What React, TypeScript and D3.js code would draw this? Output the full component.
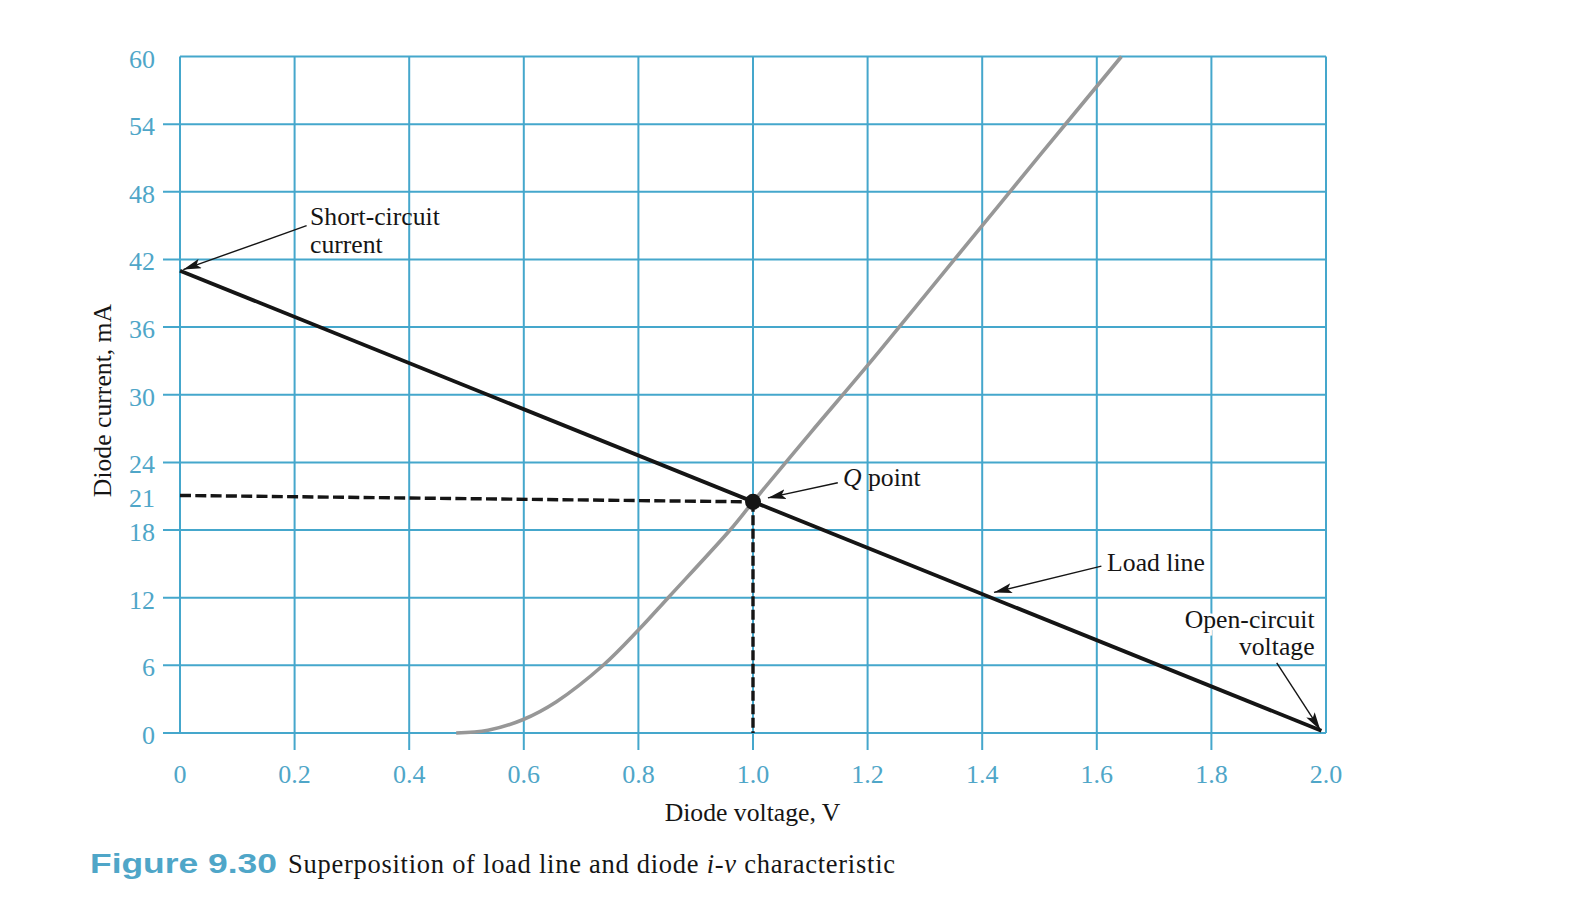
import React from "react";
import * as d3 from "d3";

const gridValuesX = [0, 0.2, 0.4, 0.6, 0.8, 1.0, 1.2, 1.4, 1.6, 1.8, 2.0];
const xTickLabels = ["0", "0.2", "0.4", "0.6", "0.8", "1.0", "1.2", "1.4", "1.6", "1.8", "2.0"];
const gridValuesY = [0, 6, 12, 18, 24, 30, 36, 42, 48, 54, 60];
const yTickLabels = [0, 6, 12, 18, 21, 24, 30, 36, 42, 48, 54, 60];

const diodeCurve: [number, number][] = [
  [0.482, 0], [0.5375, 0.24], [0.599, 1.2], [0.657, 2.78], [0.739, 6.03], [0.8, 9.13],
  [0.852, 12], [0.96, 18], [1.0, 20.5], [1.1, 26.6], [1.2, 32.6], [1.3, 38.8],
  [1.4, 45], [1.5, 51.2], [1.643, 60],
];
const loadLine: [number, number][] = [[0, 41], [1.992, 0.2]];
const qPoint: [number, number] = [1.0, 20.5];
const dashedH: [number, number][] = [[0, 21.07], [1.0, 20.5]];
const dashedV: [number, number][] = [[1.0, 20.5], [1.0, 0]];

const arrows: { from: [number, number]; to: [number, number] }[] = [
  { from: [0.221, 45], to: [0.0058, 41.1] },
  { from: [1.148, 22.2], to: [1.026, 20.85] },
  { from: [1.608, 14.8], to: [1.4206, 12.47] },
  { from: [1.914, 6.23], to: [1.99, 0.27] },
];
const notes: { text: string; v: number; i: number; anchor: string; halo: boolean }[] = [
  { text: "Short-circuit", v: 0.2269, i: 45.04, anchor: "start", halo: false },
  { text: "current", v: 0.2269, i: 42.55, anchor: "start", halo: false },
  { text: "Load line", v: 1.618, i: 14.37, anchor: "start", halo: false },
  { text: "Open-circuit", v: 1.98, i: 9.31, anchor: "end", halo: true },
  { text: "voltage", v: 1.98, i: 6.92, anchor: "end", halo: true },
];

const BLUE = "#45a7cc";
const LABEL = "#4fa6c8";
const INK = "#151515";
const SERIF = "'Liberation Serif', serif";

export default function App() {
  const x = d3.scaleLinear().domain([0, 2]).range([180, 1326]);
  const y = d3.scaleLinear().domain([0, 60]).range([733, 56.5]);
  const line = d3.line<[number, number]>().x((d) => x(d[0])).y((d) => y(d[1]));
  const curve = d3.line<[number, number]>().x((d) => x(d[0])).y((d) => y(d[1])).curve(d3.curveCatmullRom);

  return (
    <svg width={1590} height={907} style={{ position: "absolute", left: 0, top: 0, display: "block", background: "#fff" }} fontFamily={SERIF}>
      <defs>
        <marker id="head" viewBox="0 0 18 10" refX="18" refY="5" markerWidth="18" markerHeight="10" markerUnits="userSpaceOnUse" orient="auto">
          <path d="M0,0 L18,5 L0,10 L4,5 Z" fill={INK} />
        </marker>
      </defs>

      {gridValuesY.map((t) => (
        <line key={t} x1={t === 60 ? x(0) : 163} x2={x(2)} y1={y(t)} y2={y(t)} stroke={BLUE} strokeWidth={2} />
      ))}
      {gridValuesX.map((t) => (
        <line key={t} x1={x(t)} x2={x(t)} y1={y(60)} y2={t === 0 || t === 2 ? y(0) : 750} stroke={BLUE} strokeWidth={2} />
      ))}

      {yTickLabels.map((t) => (
        <text key={t} x={155} y={y(t) + 11} textAnchor="end" fontSize={26} fill={LABEL}>{t}</text>
      ))}
      {gridValuesX.map((t, i) => (
        <text key={t} x={x(t)} y={783} textAnchor="middle" fontSize={26} fill={LABEL}>{xTickLabels[i]}</text>
      ))}

      <path d={curve(diodeCurve) ?? ""} fill="none" stroke="#979797" strokeWidth={3.6} />
      <path d={line(loadLine) ?? ""} fill="none" stroke={INK} strokeWidth={3.8} />
      <path d={line(dashedH) ?? ""} fill="none" stroke={INK} strokeWidth={3.4} strokeDasharray="11 4.3" />
      <path d={line(dashedV) ?? ""} fill="none" stroke={INK} strokeWidth={3.4} strokeDasharray="10 3.5" />
      <circle cx={x(qPoint[0])} cy={y(qPoint[1])} r={8} fill={INK} />

      {arrows.map((a, i) => (
        <line key={i} x1={x(a.from[0])} y1={y(a.from[1])} x2={x(a.to[0])} y2={y(a.to[1])} stroke={INK} strokeWidth={1.4} markerEnd="url(#head)" />
      ))}

      {notes.map((n) => (
        <text key={n.text} x={x(n.v)} y={y(n.i)} textAnchor={n.anchor} fontSize={25.7} fill={INK}
          stroke={n.halo ? "#fff" : "none"} strokeWidth={5} paintOrder="stroke">{n.text}</text>
      ))}
      <text x={x(1.157)} y={y(21.9)} fontSize={25.7} fill={INK}>
        <tspan fontStyle="italic">Q</tspan> point
      </text>

      <text x={752.5} y={820.5} textAnchor="middle" fontSize={25.7} fill={INK}>Diode voltage, V</text>
      <text transform="translate(110.5,400.5) rotate(-90)" textAnchor="middle" fontSize={25.7} fill={INK}>Diode current, mA</text>

      <text x={90} y={873} fontFamily="'Liberation Sans', sans-serif" fontWeight={700} fontSize={27.5} fill={LABEL} textLength={187} lengthAdjust="spacingAndGlyphs">Figure 9.30</text>
      <text x={288} y={873} fontSize={26.5} fill={INK} textLength={607}>
        Superposition of load line and diode <tspan fontStyle="italic">i</tspan>-<tspan fontStyle="italic">v</tspan> characteristic
      </text>
    </svg>
  );
}
